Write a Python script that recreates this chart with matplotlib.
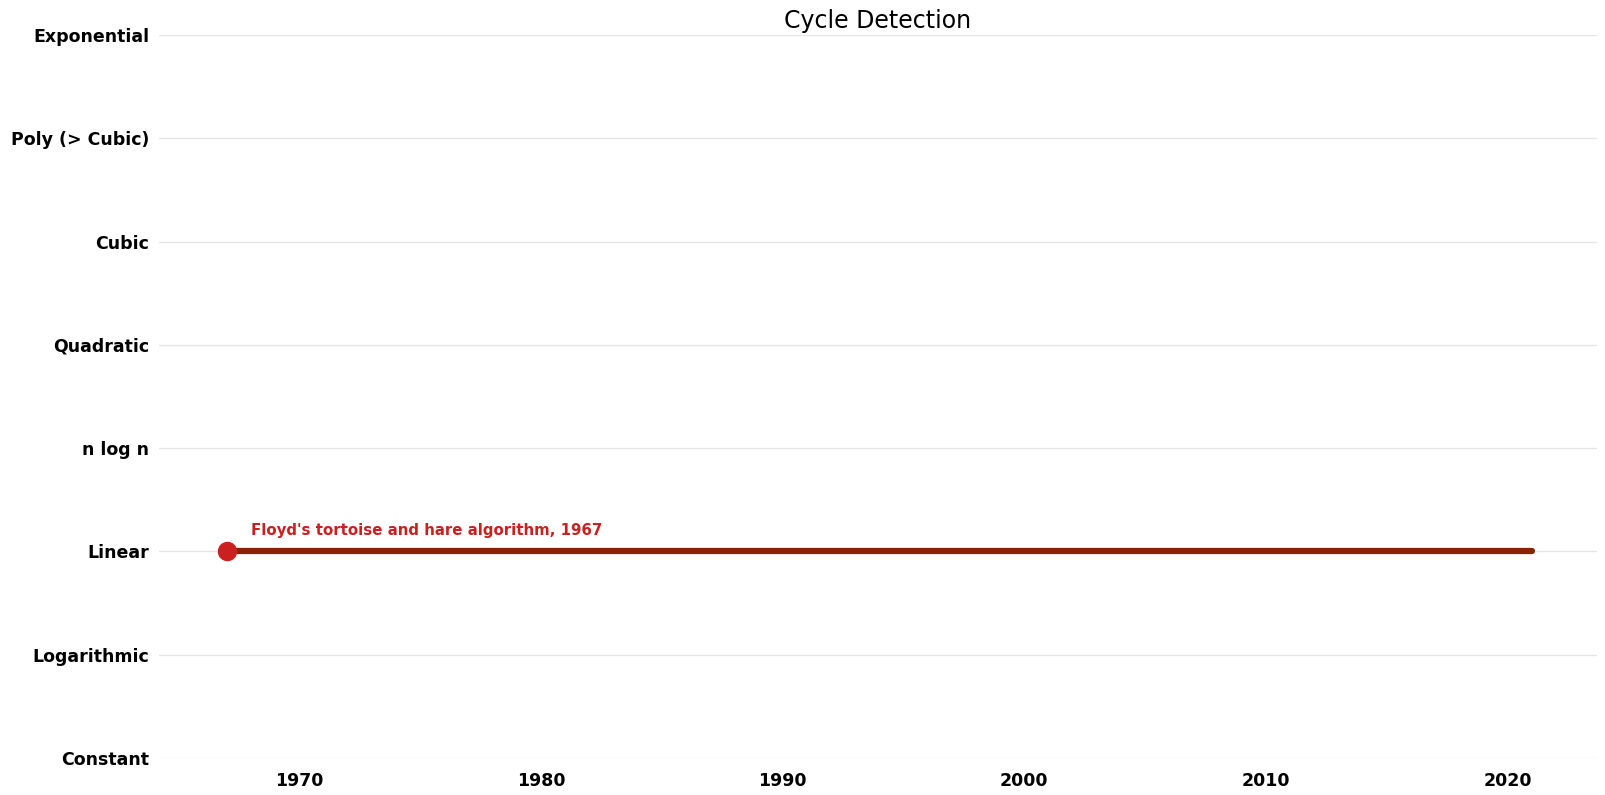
import matplotlib
matplotlib.use("Agg")
from matplotlib import pyplot as plt

categories = ["Constant", "Logarithmic", "Linear", "n log n", "Quadratic",
              "Cubic", "Poly (> Cubic)", "Exponential"]
years = [1967, 2021]
levels = [2, 2]
label = "Floyd's tortoise and hare algorithm, 1967"
xticks = [1970, 1980, 1990, 2000, 2010, 2020]

fig = plt.figure(figsize=(16.05, 7.95), dpi=100)
ax = fig.add_axes([159/1605, 1 - 758/795, (1597-159)/1605, (758-35)/795])

ax.plot(years, levels, color="#882200", linewidth=4.5, solid_capstyle="round", zorder=3)
ax.plot(years[0], levels[0], "o", color="#cc2020", markersize=13, zorder=4)
ax.text(years[0] + 1, levels[0] + 0.16, label, color="#cc2020",
        fontsize=10.8, fontweight="bold")

ax.set_xlim(1964.2, 2023.7)
ax.set_ylim(0, 7)
ax.set_yticks(range(len(categories)))
ax.set_yticklabels(categories, fontsize=12.5, fontweight="bold")
ax.set_xticks(xticks)
ax.set_xticklabels([str(x) for x in xticks], fontsize=12.5, fontweight="bold")
ax.tick_params(length=0, pad=7)
ax.tick_params(axis="x", pad=10)
ax.grid(axis="y", color="#e6e6e6", linewidth=1)
ax.set_axisbelow(True)
for s in ax.spines.values():
    s.set_visible(False)
ax.set_title("Cycle Detection", fontsize=17, pad=5)

plt.savefig("out.png", dpi=100)
